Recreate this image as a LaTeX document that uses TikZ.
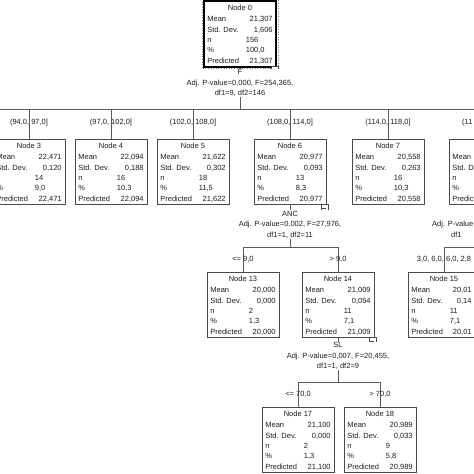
\documentclass[tikz,border=0pt]{standalone}
\usepackage{fontspec}
\setmainfont{Liberation Sans}
\usetikzlibrary{calc}
\definecolor{boxc}{HTML}{4A4A4A}
\definecolor{linec}{HTML}{5A5A5A}
\definecolor{txtc}{HTML}{1E1E1E}
\tikzset{
  nodebox/.style={draw=boxc, line width=0.7pt, fill=white, minimum width=72pt, minimum height=65pt, inner sep=0pt, anchor=north},
  txt/.style={inner sep=0pt, text=txtc, font=\fontsize{7.5}{10.4}\selectfont},
  splitlab/.style={txt, align=center, fill=white, inner sep=0.6pt},
  elab/.style={txt},
  edge/.style={draw=linec, line width=0.7pt},
  collapsebox/.style={draw=boxc, fill=white, line width=0.6pt, minimum size=7pt, inner sep=0pt},
}
\newcommand\spssbox[9]{%
  \node[nodebox] (#1) at (#2,#3) {};
  \node[txt,anchor=base] (#1-t) at ($(#1.north)+(0,9.7)$) {#4};
  \node[txt,anchor=base west] (#1-l1) at ($(#1.north west)+(3.5,20.7)$) {Mean};
  \node[txt,anchor=base west] (#1-l2) at ($(#1.north west)+(3.5,31.1)$) {Std. Dev.};
  \node[txt,anchor=base west] (#1-l3) at ($(#1.north west)+(3.5,41.5)$) {n};
  \node[txt,anchor=base west] (#1-l4) at ($(#1.north west)+(3.5,51.9)$) {\%};
  \node[txt,anchor=base west] (#1-l5) at ($(#1.north west)+(3.5,62.3)$) {Predicted};
  \node[txt,anchor=base east] (#1-v1) at ($(#1.north east)+(-3.5,20.7)$) {#5};
  \node[txt,anchor=base east] (#1-v2) at ($(#1.north east)+(-3.5,31.1)$) {#6};
  \node[txt,anchor=base west] (#1-v3) at ($(#1.north west)+(42,41.5)$) {#7};
  \node[txt,anchor=base west] (#1-v4) at ($(#1.north west)+(42,51.9)$) {#8};
  \node[txt,anchor=base east] (#1-v5) at ($(#1.north east)+(-3.5,62.3)$) {#9};
}
\newcommand\collapsemark[1]{%
  \node[collapsebox] (#1-c) at ($(#1.south east)+(-2,3.5)$) {};
  \draw[boxc, line width=0.6pt] ($(#1-c.center)+(-2,0)$) -- ($(#1-c.center)+(2,0)$);
}
\begin{document}
\begin{tikzpicture}[x=1pt,y=-1pt]
\useasboundingbox (0,0) rectangle (474,474);
\fill[white] (0,0) rectangle (474,474);
\clip (0,0) rectangle (474,474);

% ---------- junction coordinates ----------
\coordinate (n2) at (-53,139);
\coordinate (b0) at (240,109);
\coordinate (b6) at (290,247);
\coordinate (b14) at (338,382);
\coordinate (b8) at (485,247);
\coordinate (n16) at (540,272);

% ---------- nodes ----------
\spssbox{n0}{240}{1}{Node 0}{21,307}{1,606}{156}{100,0}{21,307}
\spssbox{n3}{29}{139}{Node 3}{22,471}{0,120}{14}{9,0}{22,471}
\spssbox{n4}{111}{139}{Node 4}{22,094}{0,188}{16}{10,3}{22,094}
\spssbox{n5}{193}{139}{Node 5}{21,622}{0,302}{18}{11,5}{21,622}
\spssbox{n6}{290}{139}{Node 6}{20,977}{0,093}{13}{8,3}{20,977}
\spssbox{n7}{388}{139}{Node 7}{20,558}{0,263}{16}{10,3}{20,558}
\spssbox{n8}{485}{139}{}{}{}{}{}{}
\spssbox{n13}{243}{272}{Node 13}{20,000}{0,000}{2}{1,3}{20,000}
\spssbox{n14}{338}{272}{Node 14}{21,009}{0,054}{11}{7,1}{21,009}
\spssbox{n15}{444}{272}{Node 15}{}{}{11}{7,1}{}
\node[txt,anchor=base west] (n15-m) at ($(n15.north west)+(45,20.7)$) {20,01};
\node[txt,anchor=base west] (n15-s) at ($(n15.north west)+(49,31.1)$) {0,14};
\node[txt,anchor=base west] (n15-p) at ($(n15.north west)+(45,62.3)$) {20,01};
\spssbox{n17}{298}{407}{Node 17}{21,100}{0,000}{2}{1,3}{21,100}
\spssbox{n18}{380}{407}{Node 18}{20,989}{0,033}{9}{5,8}{20,989}

% ---------- connectors ----------
\draw[edge] (n0.south) -- (b0);
\foreach \c in {n2,n3,n4,n5,n6,n7,n8} \draw[edge] (b0) -| (\c.north);
\draw[edge] (n6.south) -- (b6);
\foreach \c in {n13,n14} \draw[edge] (b6) -| (\c.north);
\draw[edge] (n14.south) -- (b14);
\foreach \c in {n17,n18} \draw[edge] (b14) -| (\c.north);
\draw[edge] (n8.south) -- (b8);
\foreach \c in {n15,n16} \draw[edge] (b8) -| (\c.north);

% root emphasis
\draw[black, line width=1.8pt] (n0.north west) rectangle (n0.south east);
\draw[gray, dotted, line width=0.6pt] ($(n0.north west)+(-1.8,-1.8)$) rectangle ($(n0.south east)+(1.8,1.8)$);

\collapsemark{n0}
\collapsemark{n6}
\collapsemark{n14}
\collapsemark{n8}

% split labels
\node[splitlab] (s0) at (240,83) {F\\Adj. P-value=0,000, F=254,365,\\df1=9, df2=146};
\node[splitlab] (s6) at (290,224.5) {ANC\\Adj. P-value=0,002, F=27,976,\\df1=1, df2=11};
\node[splitlab] (s14) at (338,356) {SL\\Adj. P-value=0,007, F=20,455,\\df1=1, df2=9};
\node[txt,anchor=west] (s8a) at (432,224.5) {Adj. P-value};
\node[txt,anchor=west] (s8b) at (451,235) {df1};

% edge labels
\node[elab] (e3) at (29,123) {(94,0, 97,0]};
\node[elab] (e4) at (111,123) {(97,0, 102,0]};
\node[elab] (e5) at (193,123) {(102,0, 108,0]};
\node[elab] (e6) at (290,123) {(108,0, 114,0]};
\node[elab] (e7) at (388,123) {(114,0, 118,0]};
\node[elab,anchor=west] (e8) at (462,123) {(11};
\node[elab] (e13) at (243,259) {<= 9,0};
\node[elab] (e14) at (338,259) {> 9,0};
\node[elab] (e15) at (444,259) {3,0, 6,0, 6,0, 2,8};
\node[elab] (e17) at (298,394) {<= 70,0};
\node[elab] (e18) at (380,394) {> 70,0};
\end{tikzpicture}
\end{document}
